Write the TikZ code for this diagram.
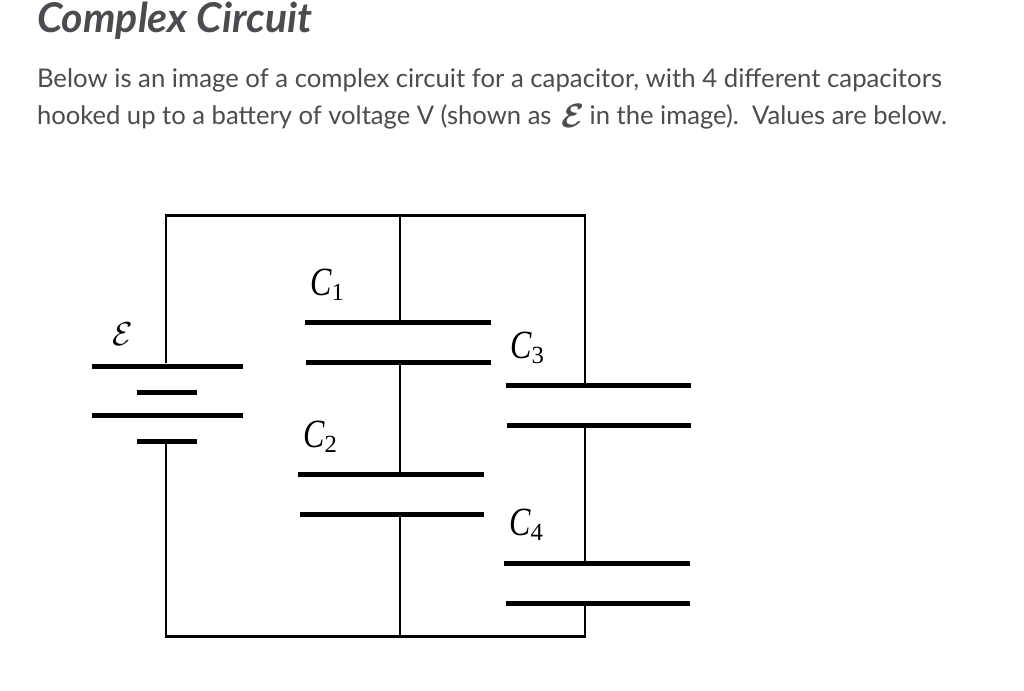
\documentclass[tikz,border=0pt]{standalone}
\usepackage{fontspec}
\usepackage{graphicx}
\setmainfont{Lato}
\newfontfamily\capfont{Liberation Serif}
\definecolor{txt}{HTML}{4A4C4F}
\newcommand{\capsym}[1]{{\fontsize{30pt}{32pt}\selectfont\capfont\itshape\scalebox{0.8}[1]{C}}\hspace{0.02em}\raisebox{-0.4em}{\fontsize{18.5pt}{20pt}\selectfont\capfont #1}}
\tikzset{
  x=0.75pt,y=-0.75pt,
  wire/.style={line width=2.1pt,black,line cap=butt,line join=miter},
  plate/.style={line width=3.3pt,black,line cap=butt},
  body/.style={anchor=base west,inner sep=0pt,outer sep=0pt,text=txt,font=\fontsize{19.3pt}{22pt}\selectfont},
  bodyb/.style={anchor=base west,inner sep=0pt,outer sep=0pt,text=txt,font=\fontsize{19.2pt}{22pt}\selectfont},
  head/.style={anchor=base west,inner sep=0pt,outer sep=0pt,text=txt,font=\fontsize{30.8pt}{34pt}\selectfont\bfseries\itshape},
  lab/.style={inner sep=0pt,outer sep=0pt,text=black}
}
\begin{document}
\begin{tikzpicture}
\useasboundingbox[fill=white] (0,0) rectangle (1024,690);
\node[head] (title) at (37,32) {Complex Circuit};
\node[body] (l1) at (37,87.5) {Below is an image of a complex circuit for a capacitor, with 4 different capacitors};
\node[bodyb] (l2) at (37,124.5) {hooked up to a battery of voltage V (shown as \hspace{0.15em}\raisebox{-0.1em}{\scalebox{1.22}{\boldmath$\mathcal{E}$}}\hspace{-0.08em} in the image).\ \ Values are below.};
\begin{scope}[yshift=-0.5pt]
% corners
\coordinate (tl) at (166,215); \coordinate (tm) at (400,215); \coordinate (tr) at (585,215);
\coordinate (bl) at (166,636); \coordinate (bm) at (400,636); \coordinate (br) at (585,636);
% battery
\coordinate (b1a) at (92,366); \coordinate (b1b) at (243,366); \coordinate (b1c) at (166,362);
\coordinate (b2a) at (137,392); \coordinate (b2b) at (197,392);
\coordinate (b3a) at (92,415); \coordinate (b3b) at (243,415);
\coordinate (b4a) at (137,441); \coordinate (b4b) at (197,441); \coordinate (b4c) at (166,441);
% capacitors
\coordinate (c1a) at (305,322); \coordinate (c1b) at (491,322); \coordinate (c1c) at (400,322);
\coordinate (c1d) at (306,362); \coordinate (c1e) at (491,362); \coordinate (c1f) at (400,362);
\coordinate (c2a) at (298,474); \coordinate (c2b) at (484,474); \coordinate (c2c) at (400,474);
\coordinate (c2d) at (300,514); \coordinate (c2e) at (484,514); \coordinate (c2f) at (400,514);
\coordinate (c3a) at (506,385); \coordinate (c3b) at (691,385); \coordinate (c3c) at (585,385);
\coordinate (c3d) at (507,425); \coordinate (c3e) at (691,425); \coordinate (c3f) at (585,425);
\coordinate (c4a) at (504,563); \coordinate (c4b) at (690,563); \coordinate (c4c) at (585,563);
\coordinate (c4d) at (506,603); \coordinate (c4e) at (690,603); \coordinate (c4f) at (585,603);
% wires
\draw[wire] (b1c) -- (tl) -- (tr) -- (c3c);
\draw[wire] (tm) -- (c1c);
\draw[wire] (c1f) -- (c2c);
\draw[wire] (c2f) -- (bm);
\draw[wire] (c3f) -- (c4c);
\draw[wire] (b4c) -- (bl) -- (br) -- (c4f);
% plates
\foreach \p/\q in {b1a/b1b,b2a/b2b,b3a/b3b,b4a/b4b,c1a/c1b,c1d/c1e,c2a/c2b,c2d/c2e,c3a/c3b,c3d/c3e,c4a/c4b,c4d/c4e}
  \draw[plate] (\p) -- (\q);
\end{scope}
% labels
\node[lab,font=\fontsize{27pt}{29pt}\selectfont] (e) at (123,334) {$\mathcal{E}$};
\node[lab,anchor=base west] (n1) at (310,295) {\capsym{1}};
\node[lab,anchor=base west] (n2) at (303,447) {\capsym{2}};
\node[lab,anchor=base west] (n3) at (510,358) {\capsym{3}};
\node[lab,anchor=base west] (n4) at (509,535) {\capsym{4}};
\end{tikzpicture}
\end{document}
